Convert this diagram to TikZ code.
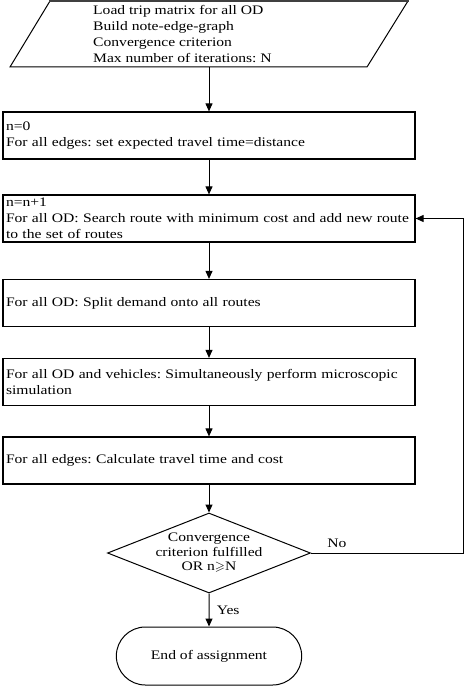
\documentclass[tikz,border=0pt]{standalone}
\usepackage{fontspec}
\usepackage{amssymb}
\setmainfont{Liberation Serif}[FakeStretch=1.2]
\frenchspacing
\usetikzlibrary{shapes.geometric,shapes.misc,arrows.meta}

\begin{document}
\begin{tikzpicture}[x=1pt,y=-1pt,
    font=\fontsize{13}{16}\selectfont,
    stepbox/.style={draw, line width=1.2pt, rectangle, minimum width=412pt, minimum height=47pt, text width=406pt, align=left, inner sep=3pt},
    decision/.style={draw, line width=1pt, diamond, minimum width=203pt, minimum height=80pt, inner sep=0pt},
    terminal/.style={draw, line width=1pt, rounded rectangle, minimum width=192pt, minimum height=58pt},
    flow/.style={line width=1pt, -{Triangle[length=8pt,width=7pt]}}]
    \useasboundingbox (0,0) rectangle (474,687);
    % input data
    \draw[line width=1pt] (408,1) -- (367,67) -- (10,67) -- (50,1);
    \draw[line width=2pt, black!75] (49,1) -- (409,1);
    \node[anchor=west, align=left, inner sep=0pt] (load) at (93,34) {Load trip matrix for all OD\\Build note-edge-graph\\Convergence criterion\\Max number of iterations: N};
    \coordinate (loadout) at (209,67);
    % steps
    \node[stepbox] (init) at (209,135.5) {n=0\\For all edges: set expected travel time=distance};
    \node[stepbox] (search) at (209,218.5) {n=n+1\\For all OD: Search route with minimum cost and add new route\\to the set of routes};
    \node[stepbox] (split) at (209,303) {For all OD: Split demand onto all routes};
    \node[stepbox] (simul) at (209,382) {For all OD and vehicles: Simultaneously perform microscopic\\simulation};
    \node[stepbox] (cost) at (209,460.5) {For all edges: Calculate travel time and cost};
    % check and end
    \node[decision] (check) at (209,553) {};
    \node[align=center, inner sep=0pt, font=\fontsize{13}{14.5}\selectfont] (checktext) at (check) {Convergence\\criterion fulfilled\\OR n$\geqslant$N};
    \node[terminal] (finish) at (209,656) {End of assignment};
    \coordinate (backdown) at (463,553);
    \coordinate (backup) at (463,218.5);
    % flow
    \draw[flow] (loadout) -- (init);
    \draw[flow] (init) -- (search);
    \draw[flow] (search) -- (split);
    \draw[flow] (split) -- (simul);
    \draw[flow] (simul) -- (cost);
    \draw[flow] (cost) -- (check);
    \draw[flow] (check) -- node[right, xshift=4pt] (yes) {Yes} (finish);
    \draw[flow] (check.east) -- (backdown) -- (backup) -- (search.east);
    \node (no) at (337,543) {No};
\end{tikzpicture}
\end{document}
